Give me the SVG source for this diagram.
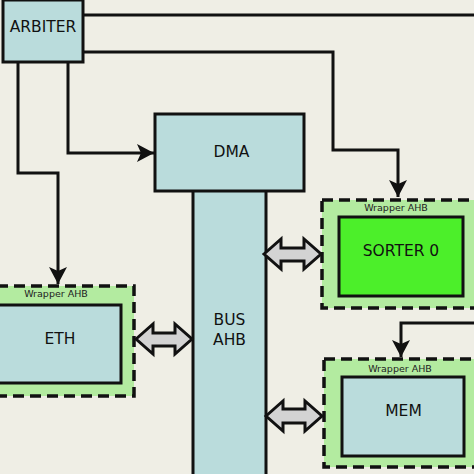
<svg xmlns="http://www.w3.org/2000/svg" width="474" height="474" viewBox="0 0 474 474">
<defs>
<style>
.box{fill:#badcdc;stroke:#111;stroke-width:3}
.wrap{fill:#b3eba0;stroke:#111;stroke-width:3.5;stroke-dasharray:11 6}
.wire{fill:none;stroke:#111;stroke-width:3}
.dbl{fill:#d3d3d3;stroke:#111;stroke-width:3;stroke-linejoin:miter}
.lbl{font-family:"DejaVu Sans",Verdana,sans-serif;font-size:15.5px;fill:#111;text-anchor:middle}
.wl{font-family:"DejaVu Sans",Verdana,sans-serif;font-size:9.5px;fill:#222;text-anchor:middle}
</style>
<marker id="ah" markerUnits="userSpaceOnUse" markerWidth="20" markerHeight="20" refX="17" refY="9" orient="auto">
<path d="M17,9 L0,0 L4,9 L0,18 Z" fill="#111"/>
</marker>
</defs>
<rect width="474" height="474" fill="#efeee5"/>
<g id="connectors">
<polyline class="wire" points="83,15 476,15"/>
<polyline class="wire" points="83,52 333,52 333,150 398,150 398,197" marker-end="url(#ah)"/>
<polyline class="wire" points="18,62 18,173 58,173 58,284" marker-end="url(#ah)"/>
<polyline class="wire" points="68,62 68,153 154,153" marker-end="url(#ah)"/>
<polyline class="wire" points="476,323 401,323 401,357" marker-end="url(#ah)"/>
</g>
<g id="bus">
<rect class="box" x="193" y="190" width="73" height="292"/>
<text class="lbl" x="229.5" y="325">BUS</text>
<text class="lbl" x="229.5" y="345">AHB</text>
</g>
<g id="arbiter">
<rect class="box" x="3" y="0" width="80" height="62"/>
<text class="lbl" x="43" y="32">ARBITER</text>
</g>
<g id="dma">
<rect class="box" x="155" y="114" width="149" height="77"/>
<text class="lbl" x="231.5" y="157">DMA</text>
</g>
<g id="sorter-wrapper">
<rect class="wrap" x="322" y="200" width="170" height="108"/>
<text class="wl" x="396" y="211">Wrapper AHB</text>
<g id="sorter">
<rect x="339" y="217" width="124" height="79" fill="#4cef2a" stroke="#111" stroke-width="3"/>
<text class="lbl" x="401" y="256">SORTER 0</text>
</g>
</g>
<g id="eth-wrapper">
<rect class="wrap" x="-20" y="286" width="154" height="110"/>
<text class="wl" x="56" y="297">Wrapper AHB</text>
<g id="eth">
<rect class="box" x="-2" y="305" width="123" height="78"/>
<text class="lbl" x="60" y="344">ETH</text>
</g>
</g>
<g id="mem-wrapper">
<rect class="wrap" x="324" y="359" width="170" height="108"/>
<text class="wl" x="400" y="372">Wrapper AHB</text>
<g id="mem">
<rect class="box" x="342" y="377" width="122" height="79"/>
<text class="lbl" x="403.5" y="416">MEM</text>
</g>
</g>
<g id="bus-links">
<path class="dbl" d="M136,339 L153,324 L153,333 L175,333 L175,324 L192,339 L175,354 L175,346 L153,346 L153,354 Z"/>
<path class="dbl" d="M264,254 L281,239 L281,248 L304,248 L304,239 L321,254 L304,269 L304,261 L281,261 L281,269 Z"/>
<path class="dbl" d="M266,416 L283,401 L283,409 L305,409 L305,401 L322,416 L305,431 L305,423 L283,423 L283,431 Z"/>
</g>
</svg>
